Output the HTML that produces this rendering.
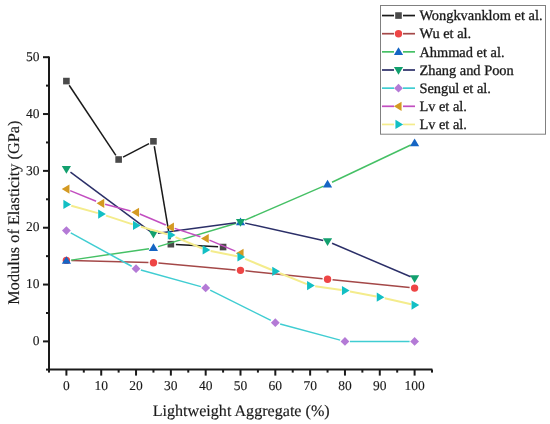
<!DOCTYPE html>
<html><head><meta charset="utf-8"><style>
html,body{margin:0;padding:0;background:#fff;}
body{width:550px;height:424px;position:relative;overflow:hidden;}
text{text-rendering:geometricPrecision;}
</style></head><body>
<svg width="550" height="424" viewBox="0 0 550 424" style="position:absolute;left:0;top:0">
<rect width="550" height="424" fill="#fff"/>
<g>
<g stroke="#1a1a1a" stroke-width="2" fill="none">
<line x1="49" y1="56.5" x2="49" y2="370.6"/>
<line x1="48" y1="369.6" x2="432.4" y2="369.6"/>
<line x1="43" y1="341.40" x2="49" y2="341.40"/>
<line x1="46" y1="312.98" x2="49" y2="312.98"/>
<line x1="43" y1="284.56" x2="49" y2="284.56"/>
<line x1="46" y1="256.14" x2="49" y2="256.14"/>
<line x1="43" y1="227.72" x2="49" y2="227.72"/>
<line x1="46" y1="199.30" x2="49" y2="199.30"/>
<line x1="43" y1="170.88" x2="49" y2="170.88"/>
<line x1="46" y1="142.46" x2="49" y2="142.46"/>
<line x1="43" y1="114.04" x2="49" y2="114.04"/>
<line x1="46" y1="85.62" x2="49" y2="85.62"/>
<line x1="43" y1="57.20" x2="49" y2="57.20"/>
<line x1="46" y1="369.6" x2="49" y2="369.6"/>
<line x1="48.99" y1="369.6" x2="48.99" y2="372.6"/>
<line x1="66.40" y1="369.6" x2="66.40" y2="375.6"/>
<line x1="83.81" y1="369.6" x2="83.81" y2="372.6"/>
<line x1="101.22" y1="369.6" x2="101.22" y2="375.6"/>
<line x1="118.63" y1="369.6" x2="118.63" y2="372.6"/>
<line x1="136.04" y1="369.6" x2="136.04" y2="375.6"/>
<line x1="153.45" y1="369.6" x2="153.45" y2="372.6"/>
<line x1="170.86" y1="369.6" x2="170.86" y2="375.6"/>
<line x1="188.27" y1="369.6" x2="188.27" y2="372.6"/>
<line x1="205.68" y1="369.6" x2="205.68" y2="375.6"/>
<line x1="223.09" y1="369.6" x2="223.09" y2="372.6"/>
<line x1="240.50" y1="369.6" x2="240.50" y2="375.6"/>
<line x1="257.91" y1="369.6" x2="257.91" y2="372.6"/>
<line x1="275.32" y1="369.6" x2="275.32" y2="375.6"/>
<line x1="292.73" y1="369.6" x2="292.73" y2="372.6"/>
<line x1="310.14" y1="369.6" x2="310.14" y2="375.6"/>
<line x1="327.55" y1="369.6" x2="327.55" y2="372.6"/>
<line x1="344.96" y1="369.6" x2="344.96" y2="375.6"/>
<line x1="362.37" y1="369.6" x2="362.37" y2="372.6"/>
<line x1="379.78" y1="369.6" x2="379.78" y2="375.6"/>
<line x1="397.19" y1="369.6" x2="397.19" y2="372.6"/>
<line x1="414.60" y1="369.6" x2="414.60" y2="375.6"/>
<line x1="432.01" y1="369.6" x2="432.01" y2="372.6"/>
</g>
<g font-family="Liberation Serif, serif" font-size="13.5" fill="#1a1a1a" stroke="#1a1a1a" stroke-width="0.12">
<text x="39.6" y="345.10" text-anchor="end">0</text>
<text x="39.6" y="288.26" text-anchor="end">10</text>
<text x="39.6" y="231.42" text-anchor="end">20</text>
<text x="39.6" y="174.58" text-anchor="end">30</text>
<text x="39.6" y="117.74" text-anchor="end">40</text>
<text x="39.6" y="60.90" text-anchor="end">50</text>
<text x="66.40" y="390.3" text-anchor="middle">0</text>
<text x="101.22" y="390.3" text-anchor="middle">10</text>
<text x="136.04" y="390.3" text-anchor="middle">20</text>
<text x="170.86" y="390.3" text-anchor="middle">30</text>
<text x="205.68" y="390.3" text-anchor="middle">40</text>
<text x="240.50" y="390.3" text-anchor="middle">50</text>
<text x="275.32" y="390.3" text-anchor="middle">60</text>
<text x="310.14" y="390.3" text-anchor="middle">70</text>
<text x="344.96" y="390.3" text-anchor="middle">80</text>
<text x="379.78" y="390.3" text-anchor="middle">90</text>
<text x="414.60" y="390.3" text-anchor="middle">100</text>
</g>
<text x="152.7" y="415.6" font-family="Liberation Serif, serif" font-size="16.1" fill="#1a1a1a" stroke="#1a1a1a" stroke-width="0.15">Lightweight Aggregate (%)</text>
<text transform="translate(19,304.7) rotate(-90)" font-family="Liberation Serif, serif" font-size="16.3" fill="#1a1a1a" stroke="#1a1a1a" stroke-width="0.15">Modulus of Elasticity (GPa)</text>
<line x1="69.17" y1="85.23" x2="115.86" y2="155.35" stroke="#1a1a1a" stroke-width="1.5"/>
<line x1="123.06" y1="157.20" x2="149.02" y2="143.64" stroke="#1a1a1a" stroke-width="1.5"/>
<line x1="154.28" y1="146.25" x2="170.03" y2="239.27" stroke="#1a1a1a" stroke-width="1.5"/>
<line x1="175.85" y1="244.48" x2="218.10" y2="246.77" stroke="#1a1a1a" stroke-width="1.5"/>
<rect x="63.10" y="77.77" width="6.60" height="6.60" fill="#4a4a4a"/>
<rect x="115.33" y="156.21" width="6.60" height="6.60" fill="#4a4a4a"/>
<rect x="150.15" y="138.02" width="6.60" height="6.60" fill="#4a4a4a"/>
<rect x="167.56" y="240.90" width="6.60" height="6.60" fill="#4a4a4a"/>
<rect x="219.79" y="243.75" width="6.60" height="6.60" fill="#4a4a4a"/>
<line x1="71.40" y1="260.53" x2="148.45" y2="262.55" stroke="#a44848" stroke-width="1.5"/>
<line x1="158.43" y1="263.12" x2="235.52" y2="269.91" stroke="#a44848" stroke-width="1.5"/>
<line x1="245.47" y1="270.86" x2="322.58" y2="278.71" stroke="#a44848" stroke-width="1.5"/>
<line x1="332.52" y1="279.72" x2="409.63" y2="287.58" stroke="#a44848" stroke-width="1.5"/>
<circle cx="66.40" cy="260.40" r="3.7" fill="#ee4545"/>
<circle cx="153.45" cy="262.68" r="3.7" fill="#ee4545"/>
<circle cx="240.50" cy="270.35" r="3.7" fill="#ee4545"/>
<circle cx="327.55" cy="279.22" r="3.7" fill="#ee4545"/>
<circle cx="414.60" cy="288.08" r="3.7" fill="#ee4545"/>
<line x1="71.07" y1="260.12" x2="149.01" y2="248.66" stroke="#45c065" stroke-width="1.5"/>
<line x1="158.08" y1="246.63" x2="236.31" y2="223.34" stroke="#45c065" stroke-width="1.5"/>
<line x1="245.01" y1="220.14" x2="323.62" y2="186.11" stroke="#45c065" stroke-width="1.5"/>
<line x1="332.02" y1="182.29" x2="410.75" y2="145.02" stroke="#45c065" stroke-width="1.5"/>
<polygon points="66.40,256.15 71.00,263.85 61.80,263.85" fill="#1565c4"/>
<polygon points="153.45,243.36 158.05,251.06 148.85,251.06" fill="#1565c4"/>
<polygon points="240.50,217.44 245.10,225.14 235.90,225.14" fill="#1565c4"/>
<polygon points="327.55,179.76 332.15,187.46 322.95,187.46" fill="#1565c4"/>
<polygon points="414.60,138.55 419.20,146.25 410.00,146.25" fill="#1565c4"/>
<line x1="70.47" y1="172.15" x2="150.14" y2="231.45" stroke="#2b2f68" stroke-width="1.5"/>
<line x1="157.90" y1="233.31" x2="235.84" y2="222.73" stroke="#2b2f68" stroke-width="1.5"/>
<line x1="245.16" y1="223.12" x2="323.23" y2="240.40" stroke="#2b2f68" stroke-width="1.5"/>
<line x1="332.07" y1="243.29" x2="410.66" y2="276.74" stroke="#2b2f68" stroke-width="1.5"/>
<polygon points="61.80,166.07 71.00,166.07 66.40,173.77" fill="#12a06e"/>
<polygon points="148.85,230.87 158.05,230.87 153.45,238.57" fill="#12a06e"/>
<polygon points="235.90,219.04 245.10,219.04 240.50,226.74" fill="#12a06e"/>
<polygon points="322.95,238.31 332.15,238.31 327.55,246.01" fill="#12a06e"/>
<polygon points="410.00,275.37 419.20,275.37 414.60,283.07" fill="#12a06e"/>
<line x1="70.79" y1="232.96" x2="131.65" y2="266.25" stroke="#40cdd2" stroke-width="1.5"/>
<line x1="140.86" y1="269.98" x2="200.86" y2="286.63" stroke="#40cdd2" stroke-width="1.5"/>
<line x1="210.16" y1="290.20" x2="270.84" y2="320.41" stroke="#40cdd2" stroke-width="1.5"/>
<line x1="280.15" y1="323.94" x2="340.13" y2="340.10" stroke="#40cdd2" stroke-width="1.5"/>
<line x1="349.96" y1="341.40" x2="409.60" y2="341.40" stroke="#40cdd2" stroke-width="1.5"/>
<polygon points="66.40,226.16 70.80,230.56 66.40,234.96 62.00,230.56" fill="#b47ad6"/>
<polygon points="136.04,264.24 140.44,268.64 136.04,273.04 131.64,268.64" fill="#b47ad6"/>
<polygon points="205.68,283.57 210.08,287.97 205.68,292.37 201.28,287.97" fill="#b47ad6"/>
<polygon points="275.32,318.24 279.72,322.64 275.32,327.04 270.92,322.64" fill="#b47ad6"/>
<polygon points="344.96,337.00 349.36,341.40 344.96,345.80 340.56,341.40" fill="#b47ad6"/>
<polygon points="414.60,337.00 419.00,341.40 414.60,345.80 410.20,341.40" fill="#b47ad6"/>
<line x1="70.16" y1="190.60" x2="96.09" y2="201.19" stroke="#c24ec0" stroke-width="1.5"/>
<line x1="105.12" y1="204.30" x2="130.65" y2="210.96" stroke="#c24ec0" stroke-width="1.5"/>
<line x1="139.78" y1="213.96" x2="165.76" y2="224.99" stroke="#c24ec0" stroke-width="1.5"/>
<line x1="174.70" y1="228.41" x2="200.39" y2="236.79" stroke="#c24ec0" stroke-width="1.5"/>
<line x1="209.42" y1="240.11" x2="235.40" y2="251.13" stroke="#c24ec0" stroke-width="1.5"/>
<polygon points="61.75,189.07 69.45,184.47 69.45,193.67" fill="#d49a22"/>
<polygon points="96.57,203.28 104.27,198.68 104.27,207.88" fill="#d49a22"/>
<polygon points="131.39,212.37 139.09,207.77 139.09,216.97" fill="#d49a22"/>
<polygon points="166.21,227.15 173.91,222.55 173.91,231.75" fill="#d49a22"/>
<polygon points="201.03,238.52 208.73,233.92 208.73,243.12" fill="#d49a22"/>
<polygon points="235.85,253.30 243.55,248.70 243.55,257.90" fill="#d49a22"/>
<line x1="71.29" y1="205.77" x2="97.82" y2="213.13" stroke="#f4ec8c" stroke-width="2.0"/>
<line x1="106.03" y1="215.65" x2="132.68" y2="224.35" stroke="#f4ec8c" stroke-width="2.0"/>
<line x1="140.93" y1="226.80" x2="167.46" y2="234.17" stroke="#f4ec8c" stroke-width="2.0"/>
<line x1="175.50" y1="237.08" x2="202.40" y2="248.50" stroke="#f4ec8c" stroke-width="2.0"/>
<line x1="210.66" y1="250.90" x2="237.05" y2="256.29" stroke="#f4ec8c" stroke-width="2.0"/>
<line x1="245.16" y1="258.91" x2="272.03" y2="269.96" stroke="#f4ec8c" stroke-width="2.0"/>
<line x1="279.99" y1="273.22" x2="306.84" y2="284.18" stroke="#f4ec8c" stroke-width="2.0"/>
<line x1="315.18" y1="286.26" x2="341.49" y2="290.08" stroke="#f4ec8c" stroke-width="2.0"/>
<line x1="349.96" y1="291.53" x2="376.33" y2="296.52" stroke="#f4ec8c" stroke-width="2.0"/>
<line x1="384.73" y1="298.30" x2="411.17" y2="304.30" stroke="#f4ec8c" stroke-width="2.0"/>
<polygon points="71.05,204.42 63.35,199.82 63.35,209.02" fill="#12bfc4"/>
<polygon points="105.87,214.08 98.17,209.48 98.17,218.68" fill="#12bfc4"/>
<polygon points="140.69,225.45 132.99,220.85 132.99,230.05" fill="#12bfc4"/>
<polygon points="175.51,235.11 167.81,230.51 167.81,239.71" fill="#12bfc4"/>
<polygon points="210.33,249.89 202.63,245.29 202.63,254.49" fill="#12bfc4"/>
<polygon points="245.15,256.99 237.45,252.39 237.45,261.59" fill="#12bfc4"/>
<polygon points="279.97,271.32 272.27,266.72 272.27,275.92" fill="#12bfc4"/>
<polygon points="314.79,285.53 307.09,280.93 307.09,290.13" fill="#12bfc4"/>
<polygon points="349.61,290.59 341.91,285.99 341.91,295.19" fill="#12bfc4"/>
<polygon points="384.43,297.18 376.73,292.58 376.73,301.78" fill="#12bfc4"/>
<polygon points="419.25,305.08 411.55,300.48 411.55,309.68" fill="#12bfc4"/>
<rect x="380.5" y="5.5" width="165" height="128.7" fill="white" stroke="#808080" stroke-width="1"/>
<line x1="382" y1="15.55" x2="394" y2="15.55" stroke="#1a1a1a" stroke-width="1.7"/>
<line x1="403" y1="15.55" x2="415" y2="15.55" stroke="#1a1a1a" stroke-width="1.7"/>
<rect x="395.20" y="12.25" width="6.60" height="6.60" fill="#4a4a4a"/>
<text x="419.4" y="20.25" font-family="Liberation Serif, serif" font-size="14.4" fill="#1a1a1a" stroke="#1a1a1a" stroke-width="0.3">Wongkvanklom et al.</text>
<line x1="382" y1="33.70" x2="394" y2="33.70" stroke="#a44848" stroke-width="1.7"/>
<line x1="403" y1="33.70" x2="415" y2="33.70" stroke="#a44848" stroke-width="1.7"/>
<circle cx="398.50" cy="33.70" r="3.7" fill="#ee4545"/>
<text x="419.4" y="38.40" font-family="Liberation Serif, serif" font-size="14.4" fill="#1a1a1a" stroke="#1a1a1a" stroke-width="0.3">Wu et al.</text>
<line x1="382" y1="51.85" x2="394" y2="51.85" stroke="#45c065" stroke-width="1.7"/>
<line x1="403" y1="51.85" x2="415" y2="51.85" stroke="#45c065" stroke-width="1.7"/>
<polygon points="398.50,47.20 403.10,54.90 393.90,54.90" fill="#1565c4"/>
<text x="419.4" y="56.55" font-family="Liberation Serif, serif" font-size="14.4" fill="#1a1a1a" stroke="#1a1a1a" stroke-width="0.3">Ahmmad et al.</text>
<line x1="382" y1="70.00" x2="394" y2="70.00" stroke="#2b2f68" stroke-width="1.7"/>
<line x1="403" y1="70.00" x2="415" y2="70.00" stroke="#2b2f68" stroke-width="1.7"/>
<polygon points="393.90,66.95 403.10,66.95 398.50,74.65" fill="#12a06e"/>
<text x="419.4" y="74.70" font-family="Liberation Serif, serif" font-size="14.4" fill="#1a1a1a" stroke="#1a1a1a" stroke-width="0.3">Zhang and Poon</text>
<line x1="382" y1="88.15" x2="394" y2="88.15" stroke="#40cdd2" stroke-width="1.7"/>
<line x1="403" y1="88.15" x2="415" y2="88.15" stroke="#40cdd2" stroke-width="1.7"/>
<polygon points="398.50,83.75 402.90,88.15 398.50,92.55 394.10,88.15" fill="#b47ad6"/>
<text x="419.4" y="92.85" font-family="Liberation Serif, serif" font-size="14.4" fill="#1a1a1a" stroke="#1a1a1a" stroke-width="0.3">Sengul et al.</text>
<line x1="382" y1="106.30" x2="394" y2="106.30" stroke="#c24ec0" stroke-width="1.7"/>
<line x1="403" y1="106.30" x2="415" y2="106.30" stroke="#c24ec0" stroke-width="1.7"/>
<polygon points="393.85,106.30 401.55,101.70 401.55,110.90" fill="#d49a22"/>
<text x="419.4" y="111.00" font-family="Liberation Serif, serif" font-size="14.4" fill="#1a1a1a" stroke="#1a1a1a" stroke-width="0.3">Lv et al.</text>
<line x1="382" y1="124.45" x2="394" y2="124.45" stroke="#f4ec8c" stroke-width="1.7"/>
<line x1="403" y1="124.45" x2="415" y2="124.45" stroke="#f4ec8c" stroke-width="1.7"/>
<polygon points="403.15,124.45 395.45,119.85 395.45,129.05" fill="#12bfc4"/>
<text x="419.4" y="129.15" font-family="Liberation Serif, serif" font-size="14.4" fill="#1a1a1a" stroke="#1a1a1a" stroke-width="0.3">Lv et al.</text>
</g>
</svg>
</body></html>
